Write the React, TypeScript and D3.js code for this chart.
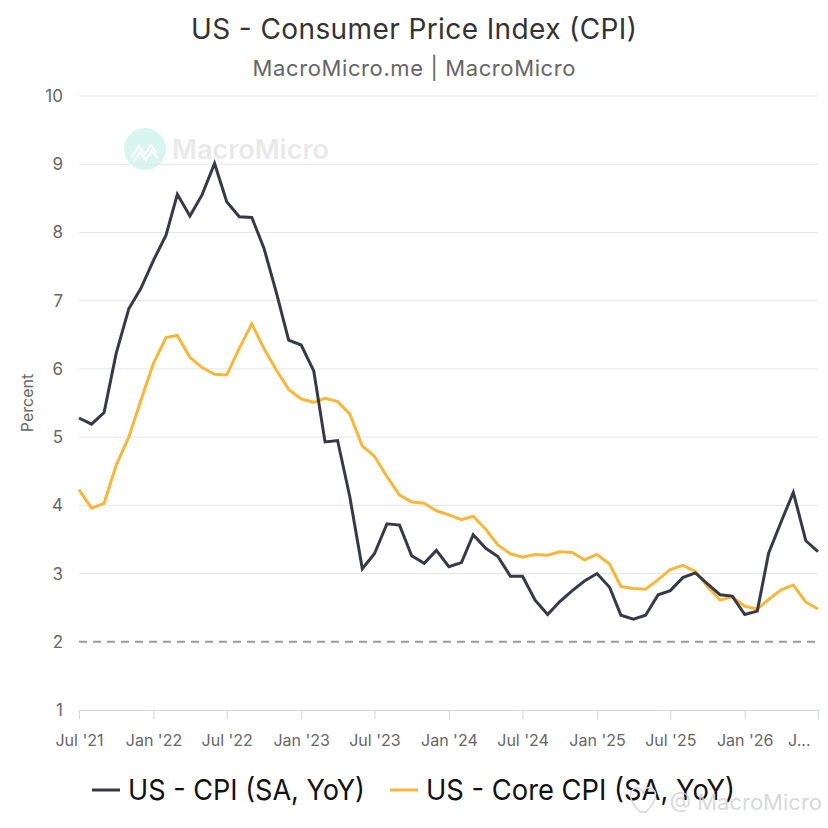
import React, { useEffect, useRef } from "react";
import * as d3 from "d3";

// monthly, Jul 2021 .. Jul 2026
const startMonth = new Date(2021, 6, 1);

const cpi = [
  5.28, 5.19, 5.36, 6.23, 6.88, 7.18, 7.59, 7.96, 8.56, 8.24, 8.55, 9.01,
  8.45, 8.23, 8.22, 7.77, 7.11, 6.42, 6.35, 5.97, 4.93, 4.95, 4.13, 3.07,
  3.29, 3.73, 3.71, 3.26, 3.15, 3.34, 3.1, 3.16, 3.57, 3.37, 3.25, 2.96,
  2.96, 2.61, 2.4, 2.59, 2.75, 2.89, 3.0, 2.8, 2.39, 2.33, 2.39, 2.69,
  2.75, 2.94, 3.01, 2.85, 2.69, 2.67, 2.4, 2.45, 3.3, 3.76, 4.19, 3.48,
  3.32,
];

const coreCpi = [
  4.23, 3.96, 4.03, 4.59, 5.0, 5.54, 6.08, 6.46, 6.49, 6.17, 6.02, 5.92,
  5.91, 6.3, 6.66, 6.3, 5.98, 5.7, 5.56, 5.51, 5.57, 5.52, 5.34, 4.87,
  4.72, 4.42, 4.15, 4.05, 4.03, 3.92, 3.86, 3.79, 3.84, 3.65, 3.42, 3.29,
  3.24, 3.28, 3.27, 3.32, 3.31, 3.2, 3.28, 3.14, 2.81, 2.78, 2.77, 2.91,
  3.06, 3.12, 3.03, 2.81, 2.61, 2.66, 2.52, 2.48, 2.62, 2.76, 2.83, 2.58,
  2.48,
];

const yTicks = [1, 2, 3, 4, 5, 6, 7, 8, 9, 10];
const xTickLabels = [
  "Jul '21", "Jan '22", "Jul '22", "Jan '23", "Jul '23", "Jan '24",
  "Jul '24", "Jan '25", "Jul '25", "Jan '26", "J...",
];
const targetLine = 2;

const seriesNames = ["US - CPI (SA, YoY)", "US - Core CPI (SA, YoY)"];
const seriesColors = ["#363948", "#f6b73c"];

const FONT = "Inter, 'Noto Sans', sans-serif";

const CpiChart = () => {
  const ref = useRef<SVGSVGElement>(null);

  useEffect(() => {
    const width = 828;
    const height = 828;
    const margin = { top: 96, right: 10, bottom: 118, left: 79 };

    const svg = d3.select(ref.current);
    svg.selectAll("*").remove();

    const dates = cpi.map((_, i) => d3.timeMonth.offset(startMonth, i));
    const x = d3
      .scaleTime()
      .domain([dates[0], dates[dates.length - 1]])
      .range([margin.left, width - margin.right]);
    const y = d3
      .scaleLinear()
      .domain([1, 10])
      .range([height - margin.bottom, margin.top]);

    svg.attr("width", width).attr("height", height);
    svg.append("rect").attr("width", width).attr("height", height).attr("fill", "#fff");

    // title
    svg
      .append("text")
      .attr("x", width / 2)
      .attr("y", 39)
      .attr("text-anchor", "middle")
      .attr("font-family", FONT)
      .attr("font-size", 28)
      .attr("textLength", 446)
      .attr("fill", "#333")
      .text("US - Consumer Price Index (CPI)");
    svg
      .append("text")
      .attr("x", width / 2)
      .attr("y", 76)
      .attr("text-anchor", "middle")
      .attr("font-family", FONT)
      .attr("font-size", 22)
      .attr("textLength", 323)
      .attr("fill", "#666")
      .text("MacroMicro.me | MacroMicro");

    // watermark
    const wm = svg.append("g");
    wm.append("circle").attr("cx", 145).attr("cy", 149).attr("r", 21).attr("fill", "#d8f6ef");
    wm.append("path")
      .attr("d", "M131,158 L139,146 L145,154 L151,145 L157,153 M133,162 L140,152 L146,160 L152,151 L158,158")
      .attr("fill", "none")
      .attr("stroke", "#fff")
      .attr("stroke-width", 2);
    wm.append("text")
      .attr("x", 172)
      .attr("y", 159)
      .attr("font-family", FONT)
      .attr("font-size", 27)
      .attr("font-weight", 600)
      .attr("fill", "#e9e9e9")
      .text("MacroMicro");

    // grid
    svg
      .append("g")
      .selectAll("line")
      .data(yTicks.filter((t) => t !== 1 && t !== targetLine))
      .join("line")
      .attr("x1", margin.left)
      .attr("x2", width - margin.right)
      .attr("y1", (d) => y(d))
      .attr("y2", (d) => y(d))
      .attr("stroke", "#e6e6e6")
      .attr("stroke-width", 1);

    // y labels
    svg
      .append("g")
      .selectAll("text")
      .data(yTicks)
      .join("text")
      .attr("x", 63)
      .attr("y", (d) => y(d) + 6)
      .attr("text-anchor", "end")
      .attr("font-family", FONT)
      .attr("font-size", 17)
      .attr("fill", "#666")
      .text((d) => d);

    svg
      .append("text")
      .attr("transform", `translate(33,${(y(1) + y(10)) / 2}) rotate(-90)`)
      .attr("text-anchor", "middle")
      .attr("font-family", FONT)
      .attr("font-size", 16)
      .attr("fill", "#666")
      .text("Percent");

    // x axis
    const tickDates = xTickLabels.map((_, i) => d3.timeMonth.offset(startMonth, i * 6));
    const xAxis = svg
      .append("g")
      .attr("transform", `translate(0,${y(1)})`)
      .call(
        d3
          .axisBottom(x)
          .tickValues(tickDates)
          .tickSize(9)
          .tickSizeOuter(0)
          .tickFormat((_, i) => xTickLabels[i])
      );
    xAxis.select(".domain").attr("stroke", "#ccd6eb");
    xAxis.selectAll(".tick line").attr("stroke", "#ccd6eb");
    xAxis
      .selectAll(".tick text")
      .attr("font-family", FONT)
      .attr("font-size", 16)
      .attr("fill", "#666")
      .attr("dy", "1.5em");
    // last label is clipped to "J..." and kept inside the plot
    xAxis
      .selectAll<SVGTextElement, Date>(".tick text")
      .filter((_, i) => i === xTickLabels.length - 1)
      .attr("text-anchor", "end")
      .attr("dx", -8);

    // dashed 2% line
    svg
      .append("line")
      .attr("x1", margin.left)
      .attr("x2", width - margin.right)
      .attr("y1", y(targetLine))
      .attr("y2", y(targetLine))
      .attr("stroke", "#999")
      .attr("stroke-width", 2)
      .attr("stroke-dasharray", "8,6");

    const line = d3
      .line<number>()
      .x((_, i) => x(dates[i]))
      .y((d) => y(d));

    [coreCpi, cpi].forEach((s) => {
      const color = s === cpi ? seriesColors[0] : seriesColors[1];
      svg
        .append("path")
        .datum(s)
        .attr("d", line)
        .attr("fill", "none")
        .attr("stroke", color)
        .attr("stroke-width", 3)
        .attr("stroke-linejoin", "miter");
    });

    // legend
    const legendPos = [92, 390];
    const legendWidths = [237, 309];
    const lg = svg.append("g");
    seriesNames.forEach((name, i) => {
      lg.append("line")
        .attr("x1", legendPos[i])
        .attr("x2", legendPos[i] + 28)
        .attr("y1", 790)
        .attr("y2", 790)
        .attr("stroke", seriesColors[i])
        .attr("stroke-width", 3);
      lg.append("text")
        .attr("x", legendPos[i] + 36)
        .attr("y", 800)
        .attr("font-family", FONT)
        .attr("font-size", 29)
        .attr("textLength", legendWidths[i])
        .attr("lengthAdjust", "spacingAndGlyphs")
        .attr("fill", "#111")
        .text(name);
    });

    // bottom-right watermark
    svg
      .append("path")
      .attr("d", "M640,812 C628,800 628,790 636,788 C640,787 642,790 643,793 C644,790 646,787 650,788 C658,790 658,800 646,812 Z")
      .attr("fill", "none")
      .attr("stroke", "#d8d8d8")
      .attr("stroke-width", 1.5);
    svg
      .append("text")
      .attr("x", 822)
      .attr("y", 810)
      .attr("text-anchor", "end")
      .attr("font-family", FONT)
      .attr("font-size", 22)
      .attr("fill", "#d0d0d0")
      .attr("opacity", 0.8)
      .text("@ MacroMicro");
  }, []);

  return <svg ref={ref} style={{ position: "absolute", left: 0, top: 0 }}></svg>;
};

export default function App() {
  return <CpiChart />;
}
